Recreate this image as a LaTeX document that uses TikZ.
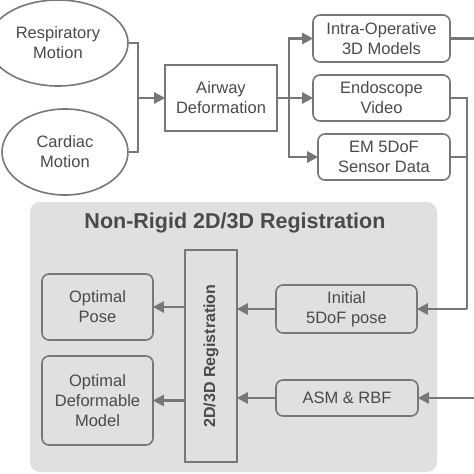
\documentclass[tikz,border=0pt]{standalone}
\usepackage{fontspec}
\setmainfont{Liberation Sans}
\usepackage{tikz}
\usetikzlibrary{calc}
\usetikzlibrary{positioning}
\usetikzlibrary{shapes.geometric}
\usetikzlibrary{arrows.meta}
\definecolor{inkgray}{HTML}{4A4A4A}
\definecolor{linegray}{HTML}{777777}
\definecolor{regionfill}{HTML}{E0E0E0}
\tikzstyle{motionnode} = [draw=linegray, ellipse, line width=1.6pt, inner sep=0pt, align=center]
\tikzstyle{plainbox} = [draw=linegray, rectangle, line width=1.6pt, inner sep=0pt, align=center]
\tikzstyle{roundbox} = [draw=linegray, rectangle, rounded corners=7pt, line width=1.6pt, inner sep=0pt, align=center]
\tikzstyle{wire} = [draw=linegray, line width=2.4pt]
\tikzstyle{wirearrow} = [wire, -{Triangle[length=11pt,width=11pt]}, shorten >=-1pt]

\begin{document}
\begin{tikzpicture}[x=1pt, y=-1pt, font=\fontsize{16.5}{20}\selectfont, text=inkgray]
\useasboundingbox (0,0) rectangle (474,474);
\clip (0,0) rectangle (474,474);

% registration region
\fill[regionfill, rounded corners=10pt] (30,202) rectangle (437,472);
\node[font=\fontsize{21.5}{25}\selectfont\bfseries] (title) at (235,223) {Non-Rigid 2D/3D Registration};

% motion sources
\node[motionnode, minimum width=140pt, minimum height=86pt] (resp) at (58,43) {Respiratory\\Motion};
\node[motionnode, minimum width=126pt, minimum height=86pt] (card) at (65,152) {Cardiac\\Motion};
\node[plainbox, minimum width=112pt, minimum height=66pt] (airway) at (221,98) {Airway\\Deformation};

% data sources
\node[roundbox, minimum width=137pt, minimum height=47pt] (models) at (381.5,38.5) {Intra-Operative\\3D Models};
\node[roundbox, minimum width=137pt, minimum height=46pt] (video) at ($(models)+(0,59.5)$) {Endoscope\\Video};
\node[roundbox, minimum width=132pt, minimum height=46pt] (sensor) at ($(video)+(2.5,59)$) {EM 5DoF\\Sensor Data};

% registration blocks
\node[plainbox, minimum width=212pt, minimum height=52pt, rotate=90, font=\fontsize{16}{20}\selectfont\bfseries] (reg) at (211,356) {2D/3D Registration};
\node[roundbox, minimum width=111pt, minimum height=66pt] (pose) at (97.5,307) {Optimal\\Pose};
\node[roundbox, minimum width=111pt, minimum height=89pt] (model) at (97.5,400.5) {Optimal\\Deformable\\Model};
\node[roundbox, minimum width=141pt, minimum height=48pt] (init) at (346.5,309) {Initial\\5DoF pose};
\node[roundbox, minimum width=142pt, minimum height=36pt] (asm) at (347,398) {ASM \& RBF};

% joints
\coordinate (join) at (138,98);
\coordinate (split) at (289,98);
\coordinate (drop) at (467,309);
\coordinate (edgeA) at (474,38.5);
\coordinate (edgeB) at (474,398);

\draw[wire] (resp.east) -| (join) |- (card.east);
\draw[wirearrow] (join) -- (airway.west);
\draw[wire] (airway.east) -- (split);
\draw[wirearrow] (split) |- (models.west);
\draw[wirearrow] (split) -- (video.west);
\draw[wirearrow] (split) |- (sensor.west);
\draw[wire] (models.east) -- (edgeA);
\draw[wire] (video.east) -| (drop);
\draw[wire] (sensor.east) -| (drop);
\draw[wirearrow] (drop) -- (init.east);
\draw[wirearrow] (edgeB) -- (asm.east);
\draw[wirearrow] (init.west) -- (init.west -| reg.south);
\draw[wirearrow] (asm.west) -- ($(asm.west -| reg.south)+(0,0)$);
\draw[wirearrow] (pose.east -| reg.north) -- (pose.east);
\draw[wirearrow] (model.east -| reg.north) -- (model.east);
\end{tikzpicture}
\end{document}
